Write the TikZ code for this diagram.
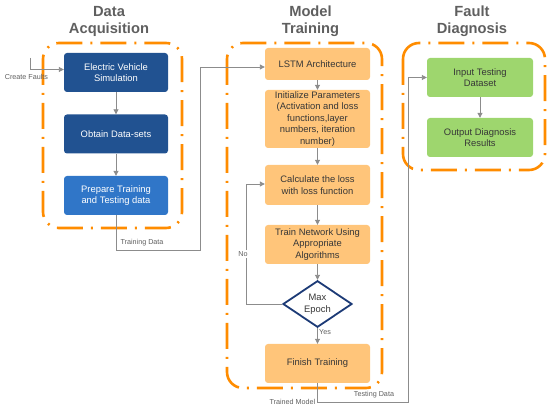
\documentclass[tikz,border=0pt]{standalone}
\usepackage{fontspec}
\setmainfont{Liberation Sans}
\usetikzlibrary{shapes.geometric,arrows.meta}
\definecolor{acqdark}{RGB}{33,82,145}
\definecolor{acqlight}{RGB}{48,118,200}
\definecolor{trainfill}{RGB}{255,197,122}
\definecolor{diagfill}{RGB}{158,214,110}
\definecolor{framecol}{RGB}{255,140,0}
\definecolor{linecol}{RGB}{140,140,140}
\definecolor{ttlcol}{RGB}{95,95,95}
\definecolor{txtcol}{RGB}{55,55,55}
\definecolor{epochcol}{RGB}{28,58,118}
\tikzset{
  box/.style={rectangle, rounded corners=3pt, minimum width=104pt, minimum height=39pt,
    align=center, inner sep=0pt, font=\fontsize{9.4}{11.5}\selectfont},
  acqbox/.style={box, fill=acqdark, text=white},
  trainbox/.style={box, fill=trainfill, text=txtcol, minimum width=105pt},
  diagbox/.style={box, fill=diagfill, text=txtcol, minimum width=106pt},
  decision/.style={diamond, draw=epochcol, line width=1.8pt, fill=white, inner sep=0pt,
    minimum width=69pt, minimum height=46pt, align=center, text=txtcol,
    font=\fontsize{9.4}{11.5}\selectfont},
  frame/.style={draw=framecol, line width=2.6pt, rounded corners=16pt,
    dash pattern=on 26pt off 8pt on 2pt off 8pt},
  conn/.style={draw=linecol, line width=0.9pt, -{Triangle[width=5pt,length=5pt]}},
  lbl/.style={font=\fontsize{7.2}{8}\selectfont, text=ttlcol, inner sep=1pt},
  ttl/.style={font=\fontsize{14.7}{17}\selectfont\bfseries, text=ttlcol, align=center}
}
\begin{document}
\begin{tikzpicture}[x=1pt,y=-1pt]
                \useasboundingbox (0,0) rectangle (550,409);

                \node[ttl] (ttlacq) at (109,21.5) {Data\\Acquisition};
                \node[ttl] (ttltrain) at (310.5,21.5) {Model\\Training};
                \node[ttl] (ttldiag) at (472,21.5) {Fault\\Diagnosis};

                \draw[frame] (43,43) rectangle (182,228);
                \draw[frame] (227,43) rectangle (382,388);
                \draw[frame] (403,43) rectangle (545,170);

                \node[acqbox] (evsim) at (116,72.5) {Electric Vehicle\\Simulation};
                \node[acqbox] (obtain) at (116,134) {Obtain Data-sets};
                \node[acqbox, fill=acqlight] (prepare) at (116,195.5) {Prepare Training\\and Testing data};

                \node[trainbox, minimum height=32pt] (lstm) at (317.5,64) {LSTM Architecture};
                \node[trainbox, minimum height=58pt] (init) at (317.5,119) {Initialize Parameters\\(Activation and loss\\functions,layer\\numbers, iteration\\number)};
                \node[trainbox, minimum height=40pt] (calc) at (317.5,185) {Calculate the loss\\with loss function};
                \node[trainbox] (trainnet) at (317.5,244.5) {Train Network Using\\Appropriate\\Algorithms};
                \node[decision] (epoch) at (317.5,304) {Max\\Epoch};
                \node[trainbox] (finish) at (317.5,363.5) {Finish Training};

                \node[diagbox] (input) at (480,77.5) {Input Testing\\Dataset};
                \node[diagbox] (output) at (480,137.5) {Output Diagnosis\\Results};

                \coordinate (faultsrc) at (30,58);
                \coordinate (tdturn) at (200,250);
                \coordinate (returnpt) at (246,304);
                \coordinate (tsturn) at (408,402);

                \draw[conn] (faultsrc) |- ([yshift=3pt]evsim.west);
                \draw[conn] (evsim) -- (obtain);
                \draw[conn] (obtain) -- (prepare);
                \draw[conn] (prepare.south) |- (tdturn) |- ([yshift=-3pt]lstm.west);
                \draw[conn] (lstm) -- (init);
                \draw[conn] (init) -- (calc);
                \draw[conn] (calc) -- (trainnet);
                \draw[conn] (trainnet) -- (epoch);
                \draw[conn] (epoch.west) -- (returnpt) |- ([yshift=1pt]calc.west);
                \draw[conn] (epoch) -- (finish);
                \draw[conn] (finish.south) |- (tsturn) |- (input.west);
                \draw[conn] (input) -- (output);

                \node[lbl] (faultslbl) at (26.5,76.5) {Create Faults};
                \node[lbl] (traindatalbl) at (142,243) {Training Data};
                \node[lbl, fill=white] (nolbl) at (243,254) {No};
                \node[lbl, anchor=west] (yeslbl) at (318,332) {Yes};
                \node[lbl, anchor=east] (modellbl) at (316.5,402) {Trained Model};
                \node[lbl] (testlbl) at (374,395) {Testing Data};
\end{tikzpicture}
\end{document}
